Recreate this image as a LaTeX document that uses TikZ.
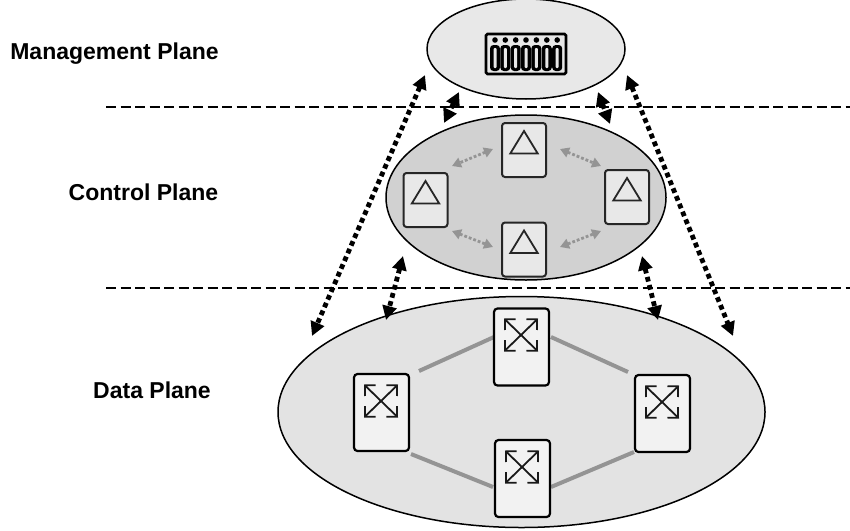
\documentclass[tikz,border=0pt]{standalone}
\usepackage{fontspec}
\setmainfont{Liberation Sans}
\usetikzlibrary{arrows.meta}
\tikzset{
  planelabel/.style={font=\bfseries\fontsize{23}{26}\selectfont,inner sep=0pt,text=black},
  ctrlbox/.style={draw=black!85,line width=2pt,fill=black!9,rounded corners=3pt,minimum width=44pt,minimum height=54pt,inner sep=0pt},
  databox/.style={draw=black,line width=2.2pt,fill=black!5,rounded corners=3.5pt,minimum width=55pt,minimum height=77pt,inner sep=0pt},
  tri/.style={draw=black!85,line width=1.8pt,line join=miter},
  xarrow/.style={draw=black!90,line width=1.8pt,{Straight Barb[length=7.5pt,width=15pt]}-{Straight Barb[length=7.5pt,width=15pt]}},
  bigdots/.style={line width=4.8pt,dash pattern=on 4.8pt off 3.6pt,black,{Triangle[length=14pt,width=14pt]}-{Triangle[length=14pt,width=14pt]}},
  graydots/.style={line width=2.8pt,dash pattern=on 2.8pt off 2pt,black!42,{Triangle[length=9pt,width=10pt]}-{Triangle[length=9pt,width=10pt]}},
  boundary/.style={line width=2pt,dash pattern=on 10pt off 4.5pt,black},
  link/.style={line width=4pt,black!42},
}
\newcommand{\triangleat}[2]{\draw[tri] (#1-13.7,#2+11.5) -- (#1,#2-11) -- (#1+13.7,#2+11.5) -- cycle;}
\newcommand{\crossat}[2]{%
  \draw[xarrow] (#1-17,#2-16.5) -- (#1+17,#2+16.5);
  \draw[xarrow] (#1-17,#2+16.5) -- (#1+17,#2-16.5);}
\begin{document}
\begin{tikzpicture}[x=1pt,y=-1pt]
\useasboundingbox (0,0) rectangle (850,530);
\fill[white] (0,0) rectangle (850,530);
% planes
\draw[line width=1.5pt,fill=black!9] (526,49) ellipse [x radius=99,y radius=50];
\draw[line width=1.5pt,fill=black!18] (526,197.5) ellipse [x radius=140,y radius=82.5];
\draw[line width=1.5pt,fill=black!11] (521.5,412) ellipse [x radius=243.5,y radius=115.5];
% labels
\node[planelabel] (lm) at (114.5,54) {Management Plane};
\node[planelabel] (lc) at (143.5,192) {Control Plane};
\node[planelabel] (ld) at (152,390) {Data Plane};
% boundaries
\coordinate (b1a) at (106,107); \coordinate (b1b) at (850,107);
\coordinate (b2a) at (106,288); \coordinate (b2b) at (850,288);
\draw[boundary] (b1a) -- (b1b);
\draw[boundary] (b2a) -- (b2b);
% management icon
\node[draw=black,line width=2.8pt,fill=black!9,rounded corners=1.5pt,minimum width=80pt,minimum height=40pt,inner sep=0pt] (mgmt) at (526,54) {};
\foreach \x in {495,505.3,515.7,526,536.4,546.8,557.2}{
  \fill[black] (\x,40) circle (2.8);
  \fill[black,rounded corners=3.5pt] (\x-5,45) rectangle (\x+5,71);
  \fill[black!9,rounded corners=1pt] (\x-1.5,48) rectangle (\x+1.5,68);
}
% control boxes
\node[ctrlbox] (ct) at (524,150) {};
\node[ctrlbox] (cl) at (425.5,200) {};
\node[ctrlbox] (cr) at (627,197) {};
\node[ctrlbox] (cb) at (524,249.5) {};
\triangleat{524}{142}
\triangleat{425.5}{192}
\triangleat{627}{189}
\triangleat{524}{241.5}
% control links
\coordinate (g1a) at (493,149); \coordinate (g1b) at (452,166);
\coordinate (g2a) at (560,149); \coordinate (g2b) at (601,166);
\coordinate (g3a) at (452,231); \coordinate (g3b) at (493,247);
\coordinate (g4a) at (560,247); \coordinate (g4b) at (601,231);
\draw[graydots] (g1a) -- (g1b);
\draw[graydots] (g2a) -- (g2b);
\draw[graydots] (g3a) -- (g3b);
\draw[graydots] (g4a) -- (g4b);
% data links
\coordinate (l1a) at (419,371); \coordinate (l1b) at (494,337);
\coordinate (l2a) at (551,337); \coordinate (l2b) at (628,372);
\coordinate (l3a) at (411,454); \coordinate (l3b) at (493,487);
\coordinate (l4a) at (551,487); \coordinate (l4b) at (634,452);
\draw[link] (l1a) -- (l1b);
\draw[link] (l2a) -- (l2b);
\draw[link] (l3a) -- (l3b);
\draw[link] (l4a) -- (l4b);
% data boxes
\node[databox] (dt) at (521.5,347) {};
\node[databox] (dl) at (381.5,412.5) {};
\node[databox] (dr) at (662.5,413.5) {};
\node[databox] (db) at (522.5,478.5) {};
\crossat{521}{335}
\crossat{381}{401}
\crossat{662}{402}
\crossat{522}{467}
% plane-to-plane arrows
\coordinate (a1a) at (425,75); \coordinate (a1b) at (312,336);
\coordinate (a2a) at (627,75); \coordinate (a2b) at (733,336);
\coordinate (a3a) at (459,92); \coordinate (a3b) at (444,123);
\coordinate (a4a) at (598,92); \coordinate (a4b) at (610,124);
\coordinate (a5a) at (403,256); \coordinate (a5b) at (386,320);
\coordinate (a6a) at (642,256); \coordinate (a6b) at (658,320);
\draw[bigdots] (a1a) -- (a1b);
\draw[bigdots] (a2a) -- (a2b);
\draw[bigdots] (a3a) -- (a3b);
\draw[bigdots] (a4a) -- (a4b);
\draw[bigdots] (a5a) -- (a5b);
\draw[bigdots] (a6a) -- (a6b);
\end{tikzpicture}
\end{document}
